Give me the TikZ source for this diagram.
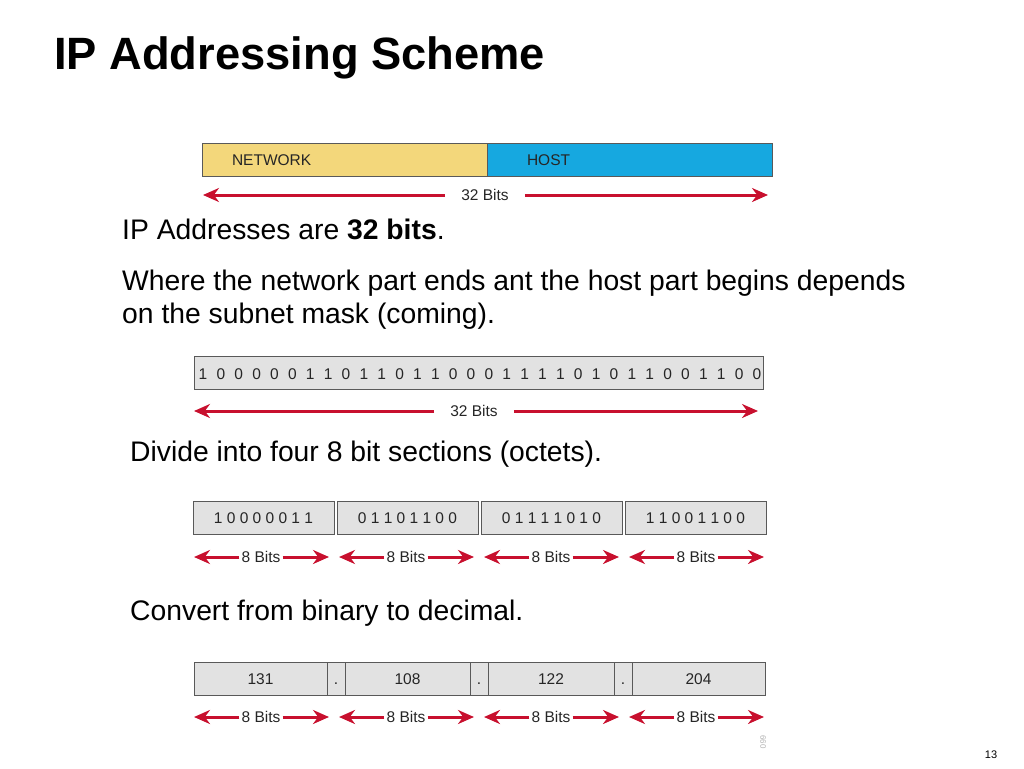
\documentclass[tikz,border=0pt]{standalone}
\usepackage{fontspec}
\setmainfont{Liberation Sans}
\usepackage{tikz}
\usetikzlibrary{arrows.meta}
\definecolor{netyellow}{RGB}{243,215,123}
\definecolor{hostblue}{RGB}{22,168,224}
\definecolor{cellgray}{RGB}{226,226,226}
\definecolor{bitred}{RGB}{200,16,46}
\tikzset{>={Stealth[length=16pt,width=14pt]}}
\tikzset{
  cell/.style={draw=black!65,line width=1pt,fill=cellgray,minimum height=33pt,inner sep=0pt,
    text height=12pt,text depth=0pt,text=black!85,font=\fontsize{15.5}{16}\selectfont},
  lbl/.style={inner ysep=0pt,text=black!85,font=\fontsize{15.5}{16}\selectfont},
  redarrow/.style={->,draw=bitred,line width=3pt},
  body/.style={anchor=base west,inner sep=0pt,font=\fontsize{28.3}{33}\selectfont}
}

\begin{document}
\begin{tikzpicture}[x=1pt,y=-1pt]
  \useasboundingbox (0,0) rectangle (1024,768);
  \node[anchor=base west,inner sep=0pt,font=\fontsize{45.3}{54}\selectfont\bfseries] (title) at (54,69) {IP Addressing Scheme};

  % network / host
  \node[cell,fill=netyellow,text width=225pt,inner xsep=30pt,align=left] (net) at (344.5,159.5) {NETWORK};
  \node[cell,fill=hostblue,text width=205pt,inner xsep=40pt,align=left] (host) at (629.5,159.5) {HOST};
  \node[lbl,inner xsep=16pt] (w32a) at (485,195) {32 Bits};
  \coordinate (w32al) at (203,195);
  \coordinate (w32ar) at (768,195);
  \draw[redarrow] (w32a.west) -- (w32al);
  \draw[redarrow] (w32a.east) -- (w32ar);

  \node[body] (t1) at (122,239) {IP Addresses are \textbf{32 bits}.};
  \node[body] (t2) at (122,290) {Where the network part ends ant the host part begins depends};
  \node[body] (t3) at (122,323) {on the subnet mask (coming).};

  % 32 bits in a row
  \node[cell,minimum width=569pt] (row) at (478.5,373) {};
  \foreach \d [count=\i from 0] in {1,0,0,0,0,0,1,1,0,1,1,0,1,1,0,0,0,1,1,1,1,0,1,0,1,1,0,0,1,1,0,0}
    \node[lbl] (b\i) at (203+17.87*\i,374) {\d};
  \node[lbl,inner xsep=16pt] (w32b) at (474,411) {32 Bits};
  \coordinate (w32bl) at (194,411);
  \coordinate (w32br) at (758,411);
  \draw[redarrow] (w32b.west) -- (w32bl);
  \draw[redarrow] (w32b.east) -- (w32br);

  \node[body] (t4) at (130,461) {Divide into four 8 bit sections (octets).};

  % octets
  \foreach \o [count=\i from 0] in {1 0 0 0 0 0 1 1,0 1 1 0 1 1 0 0,0 1 1 1 1 0 1 0,1 1 0 0 1 1 0 0}
    \node[cell,minimum width=141pt] (o\i) at (263.5+144*\i,517.5) {\o};
  \foreach \i in {0,...,3} {
    \node[lbl,inner xsep=2pt] (e\i) at (261+145*\i,557) {8 Bits};
    \coordinate (e\i l) at (194+145*\i,557);
    \coordinate (e\i r) at (329+145*\i,557);
    \draw[redarrow] (e\i.west) -- (e\i l);
    \draw[redarrow] (e\i.east) -- (e\i r);
  }

  \node[body] (t5) at (130,620) {Convert from binary to decimal.};

  % decimal
  \foreach \a/\b/\t [count=\i] in {194/327/131,327/345/.,345/470/108,470/488/.,488/614/122,614/632/.,632/765/204}
    \node[cell,minimum width={(\b-\a)*1pt}] (d\i) at ({(\a+\b)/2},678.5) {\t};
  \foreach \i in {0,...,3} {
    \node[lbl,inner xsep=2pt] (f\i) at (261+145*\i,717) {8 Bits};
    \coordinate (f\i l) at (194+145*\i,717);
    \coordinate (f\i r) at (329+145*\i,717);
    \draw[redarrow] (f\i.west) -- (f\i l);
    \draw[redarrow] (f\i.east) -- (f\i r);
  }

  \node[rotate=-90,text=black!30,font=\fontsize{8}{8}\selectfont] (fig) at (763,742) {660};
  \node[font=\fontsize{11}{12}\selectfont] (pg) at (991,755) {13};
\end{tikzpicture}
\end{document}
